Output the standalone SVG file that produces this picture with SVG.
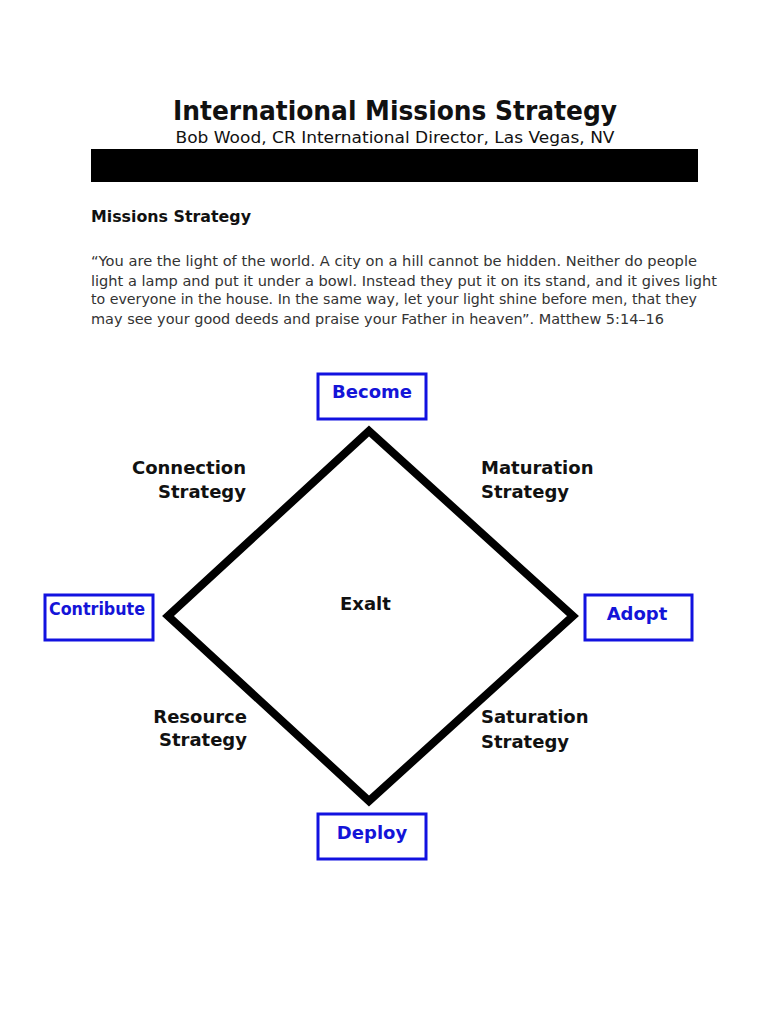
<svg xmlns="http://www.w3.org/2000/svg" width="768" height="1024" viewBox="0 0 768 1024">
<style>
text{font-family:"DejaVu Sans","Noto Sans",sans-serif;}
.title{font-size:26px;font-weight:bold;fill:#111;}
.sub{font-size:15px;fill:#111;}
.h{font-size:15px;font-weight:bold;fill:#111;}
.q{font-size:14px;fill:#333;}
.lbl{font-size:18px;font-weight:bold;fill:#111;}
.box{fill:#fff;stroke:#1212e0;stroke-width:3;}
.bt{font-size:18px;font-weight:bold;fill:#1414d8;}
.edge{fill:none;stroke:#000;stroke-width:8;stroke-linejoin:miter;}
</style>
<rect width="768" height="1024" fill="#fff"/>
<text class="title" x="395" y="120" text-anchor="middle" textLength="444" lengthAdjust="spacingAndGlyphs">International Missions Strategy</text>
<text class="sub" x="395" y="143" text-anchor="middle" textLength="439" lengthAdjust="spacingAndGlyphs">Bob Wood, CR International Director, Las Vegas, NV</text>
<rect x="91" y="149" width="607" height="33" fill="#000"/>
<text class="h" x="91" y="222" textLength="160" lengthAdjust="spacingAndGlyphs">Missions Strategy</text>
<text class="q" x="91" y="266" textLength="606" lengthAdjust="spacingAndGlyphs">“You are the light of the world. A city on a hill cannot be hidden. Neither do people</text>
<text class="q" x="91" y="286" textLength="626" lengthAdjust="spacingAndGlyphs">light a lamp and put it under a bowl. Instead they put it on its stand, and it gives light</text>
<text class="q" x="91" y="304" textLength="606" lengthAdjust="spacingAndGlyphs">to everyone in the house.  In the same way, let your light shine before men, that they</text>
<text class="q" x="91" y="324" textLength="573" lengthAdjust="spacingAndGlyphs">may see your good deeds and praise your Father in heaven”. Matthew 5:14–16</text>
<g id="connectors">
<polygon class="edge" points="369,431 573,616 369,801 168,616"/>
</g>
<g id="become"><rect class="box" x="318" y="374" width="108" height="45"/><text class="bt" x="372" y="398" text-anchor="middle">Become</text></g>
<g id="contribute"><rect class="box" x="45" y="595" width="108" height="45"/><text class="bt" x="49" y="615" textLength="96" lengthAdjust="spacingAndGlyphs">Contribute</text></g>
<g id="adopt"><rect class="box" x="585" y="595" width="107" height="45"/><text class="bt" x="637" y="620" text-anchor="middle">Adopt</text></g>
<g id="deploy"><rect class="box" x="318" y="814" width="108" height="45"/><text class="bt" x="372" y="839" text-anchor="middle">Deploy</text></g>
<g id="exalt"><text class="lbl" x="340" y="610">Exalt</text></g>
<g id="connection"><text class="lbl" x="246" y="474" text-anchor="end">Connection</text><text class="lbl" x="246" y="498" text-anchor="end">Strategy</text></g>
<g id="maturation"><text class="lbl" x="481" y="474">Maturation</text><text class="lbl" x="481" y="498">Strategy</text></g>
<g id="resource"><text class="lbl" x="247" y="723" text-anchor="end">Resource</text><text class="lbl" x="247" y="746" text-anchor="end">Strategy</text></g>
<g id="saturation"><text class="lbl" x="481" y="723">Saturation</text><text class="lbl" x="481" y="748">Strategy</text></g>
</svg>
